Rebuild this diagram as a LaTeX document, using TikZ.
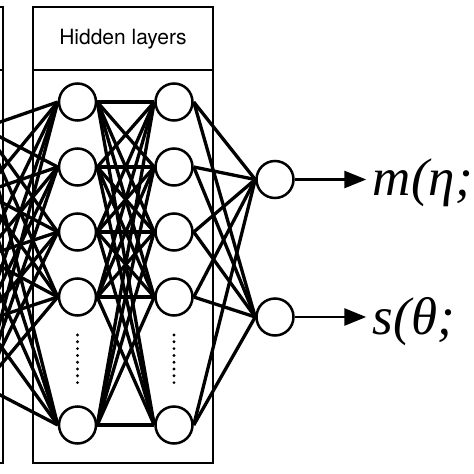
\documentclass[tikz,border=0pt]{standalone}
\usepackage{fontspec}
\newfontfamily\headfont{TeX Gyre Heros}
\newfontfamily\outfont{Liberation Serif}
\usetikzlibrary{arrows.meta,positioning}

\begin{document}
\begin{tikzpicture}[x=1pt,y=-1pt,line width=3.3pt,>={Triangle[length=22pt,width=17pt]}]
\useasboundingbox (0,0) rectangle (474,474);
\tikzset{neuron/.style={circle,draw,line width=2.5pt,fill=white,minimum size=37pt,inner sep=0pt},
         layerbox/.style={draw,line width=2.7pt}}
% ---- layer boxes: input (cut at left) and hidden ----
\draw[layerbox] (-177,7) rectangle (3,463);
\draw[layerbox] (-177,70) -- (3,70);
\draw[layerbox] (33,7) rectangle (213,463);
\draw[layerbox] (33,70) -- (213,70);
\node (title) at (123,39) {\headfont\fontsize{21}{24}\selectfont Hidden layers};
% ---- neurons ----
\foreach \i/\y in {1/102,2/167,3/232,4/297,5/425}{
  \node[neuron] (a\i) at (77.5,\y) {};
  \node[neuron] (b\i) at (174,\y) {};
  \coordinate (in\i) at (-17,{128+64.5*(\i-1)});
}
\node[neuron] (o1) at (275,179.5) {};
\node[neuron] (o2) at (275,317) {};
% ---- dotted gaps ----
\foreach \k in {0,...,7}{
  \fill (77.5,{335+\k*6.8}) circle (1.6);
  \fill (174,{335+\k*6.8}) circle (1.6);
}
% ---- connections ----
\foreach \i in {1,...,5}{\foreach \j in {1,...,5}{
  \draw (in\i) -- (a\j.west);
  \draw (a\i.east) -- (b\j.west);
}}
\foreach \i in {1,...,5}{\foreach \j in {1,2}{
  \draw (b\i.east) -- (o\j.west);
}}
% ---- outputs ----
\draw[->,line width=2.8pt] (o1.east) -- ++(71.5,0) coordinate (mtip);
\draw[->,line width=2.8pt] (o2.east) -- ++(71.5,0) coordinate (stip);
\node[right=5pt of mtip,inner sep=0pt,yshift=-3pt] (mlab) {\outfont\itshape\fontsize{53}{60}\selectfont m(η;};
\node[right=5pt of stip,inner sep=0pt,yshift=-5pt] (slab) {\outfont\itshape\fontsize{53}{60}\selectfont s(θ;};
\end{tikzpicture}
\end{document}
